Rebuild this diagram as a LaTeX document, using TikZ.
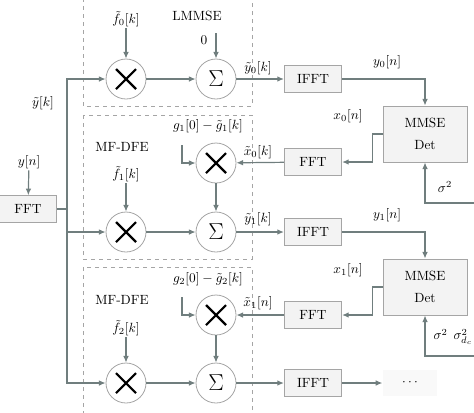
\documentclass[tikz,border=0pt]{standalone}
\usepackage{tikz}
\usetikzlibrary{calc}
\usetikzlibrary{arrows.meta}

\definecolor{wiregray}{RGB}{112,126,126}
\definecolor{edgegray}{RGB}{165,165,165}
\definecolor{boxfill}{RGB}{243,243,243}

\begin{document}
\begin{tikzpicture}[x=0.75pt,y=-0.75pt,
    wire/.style={draw=wiregray, line width=0.9pt, -{Latex[length=5pt,width=4.2pt]}},
    line/.style={draw=wiregray, line width=0.9pt},
    lbl/.style={inner sep=1pt},
    blk/.style={draw=edgegray, fill=boxfill, line width=0.6pt, minimum width=43pt, minimum height=20pt},
    det/.style={blk, minimum width=63pt, minimum height=42pt, align=center},
    mult/.style={circle, draw=edgegray, fill=white, line width=0.6pt, minimum size=30pt,
        path picture={\draw[line width=1.6pt, black]
            ($(path picture bounding box.center)+(-7.5pt,-7.5pt)$) -- +(15pt,15pt)
            ($(path picture bounding box.center)+(-7.5pt,7.5pt)$) -- +(15pt,-15pt);}},
    adder/.style={circle, draw=edgegray, fill=white, line width=0.6pt, minimum size=30pt,
        inner sep=0pt, font=\LARGE},
    group/.style={draw=edgegray, dashed, line width=0.6pt}]

    \useasboundingbox (0, 0) rectangle (474, 412);

    % dashed groups
    \draw[group] (83, -2) rectangle (252, 106);
    \draw[group] (83, 115) rectangle (252, 259);
    \draw[group] (83, 267) rectangle (252, 414);

    % input side
    \node[blk] (fft) at (28, 209) {FFT};
    \node[lbl] (yn) at (29, 162) {$y[n]$};
    \node[lbl] (ytil) at (43, 103) {$\tilde{y}[k]$};
    \coordinate (split) at (67, 209);

    % LMMSE branch
    \node[mult] (m0) at (126, 79) {};
    \node[adder] (s0) at (216, 79) {$\Sigma$};
    \node[lbl] (f0) at (126, 19) {$\tilde{f}_0[k]$};
    \node[lbl] (lmmse) at (197, 16) {LMMSE};
    \node[lbl] (zero) at (204, 40) {0};
    \coordinate (zin) at (216, 33);
    \node[blk] (ifft0) at (313, 79) {IFFT};
    \node[blk] (fftb0) at (313, 162) {FFT};
    \node[det] (det0) at (425, 134) {MMSE\\[4pt]Det};
    \coordinate (sig0) at (474, 203);

    % first MF-DFE branch
    \node[mult] (fb1) at (216, 163) {};
    \node[mult] (m1) at (126, 232) {};
    \node[adder] (s1) at (216, 232) {$\Sigma$};
    \node[lbl] (g1) at (208, 126) {$g_1[0]-\tilde{g}_1[k]$};
    \node[lbl] (dfe1) at (122, 147) {MF-DFE};
    \node[lbl] (f1) at (126, 174) {$\tilde{f}_1[k]$};
    \coordinate (g1in) at (182, 145);
    \node[blk] (ifft1) at (313, 232) {IFFT};
    \node[blk] (fftb1) at (313, 315) {FFT};
    \node[det] (det1) at (425, 287) {MMSE\\[4pt]Det};
    \coordinate (sig1) at (474, 356);

    % second MF-DFE branch
    \node[mult] (fb2) at (216, 315) {};
    \node[mult] (m2) at (126, 383) {};
    \node[adder] (s2) at (216, 383) {$\Sigma$};
    \node[lbl] (g2) at (208, 279) {$g_2[0]-\tilde{g}_2[k]$};
    \node[lbl] (dfe2) at (122, 300) {MF-DFE};
    \node[lbl] (f2) at (126, 328) {$\tilde{f}_2[k]$};
    \coordinate (g2in) at (182, 297);
    \node[blk] (ifft2) at (313, 383) {IFFT};
    \node[fill=boxfill!50, minimum width=41pt, minimum height=20pt] (more) at (410, 383) {$\cdots$};

    % signal labels
    \node[lbl] (yt0) at (258, 68) {$\tilde{y}_0[k]$};
    \node[lbl] (y0) at (387, 62) {$y_0[n]$};
    \node[lbl] (x0) at (348, 116) {$x_0[n]$};
    \node[lbl] (xt0) at (258, 152) {$\tilde{x}_0[k]$};
    \node[lbl] (sg0) at (445, 187) {$\sigma^2$};
    \node[lbl] (yt1) at (258, 219) {$\tilde{y}_1[k]$};
    \node[lbl] (y1) at (387, 215) {$y_1[n]$};
    \node[lbl] (x1) at (348, 270) {$x_1[n]$};
    \node[lbl] (xt1) at (258, 303) {$\tilde{x}_1[n]$};
    \node[lbl, anchor=west] (sg1) at (432, 337) {$\sigma^2\;\,\sigma^2_{d_c}$};

    % connections
    \draw[wire] (yn) -- (fft);
    \draw[line] (fft) -- (split);
    \draw[wire] (split) |- (m0);
    \draw[wire] (split) |- (m1);
    \draw[wire] (split) |- (m2);

    \draw[wire] (f0) -- (m0);
    \draw[wire] (zin) -- (s0);
    \draw[wire] (m0) -- (s0);
    \draw[wire] (s0) -- (ifft0);
    \draw[wire] (ifft0) -| (det0);
    \draw[wire] (det0.west) -- ++(-10, 0) |- (fftb0);
    \draw[wire] (fftb0) -- (fb1);
    \draw[wire] (sig0) -| (det0);

    \draw[wire] (g1in) |- (fb1);
    \draw[wire] (fb1) -- (s1);
    \draw[wire] (f1) -- (m1);
    \draw[wire] (m1) -- (s1);
    \draw[wire] (s1) -- (ifft1);
    \draw[wire] (ifft1) -| (det1);
    \draw[wire] (det1.west) -- ++(-10, 0) |- (fftb1);
    \draw[wire] (fftb1) -- (fb2);
    \draw[wire] (sig1) -| (det1);

    \draw[wire] (g2in) |- (fb2);
    \draw[wire] (fb2) -- (s2);
    \draw[wire] (f2) -- (m2);
    \draw[wire] (m2) -- (s2);
    \draw[wire] (s2) -- (ifft2);
    \draw[wire] (ifft2) -- (more);

\end{tikzpicture}
\end{document}
